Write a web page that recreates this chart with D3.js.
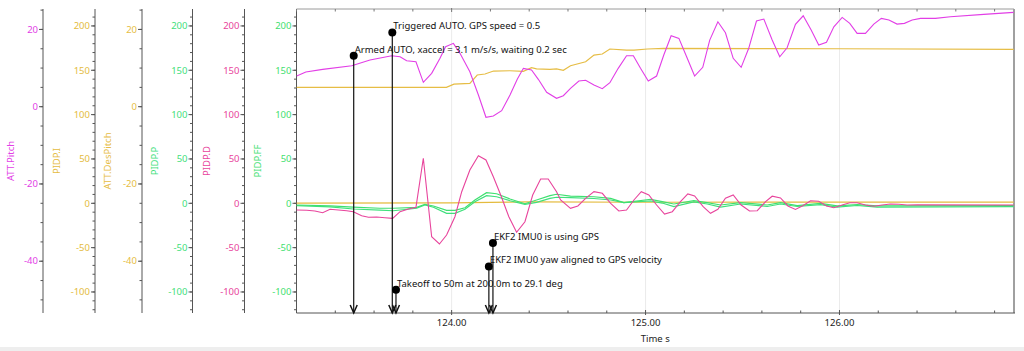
<!DOCTYPE html>
<html>
<head>
<meta charset="utf-8">
<script src="https://cdn.jsdelivr.net/npm/d3@7"></script>
<style>
  body { margin: 0; background: #fff; }
  svg { display: block; font-family: "Noto Sans", sans-serif; }
</style>
</head>
<body>
<div id="graf"></div>
<script>
// vrijeme (s) i vrijednosti serija
const pitchT = [123.201, 123.248, 123.335, 123.485, 123.579, 123.691, 123.734, 123.768, 123.816, 123.854, 123.897, 123.940, 123.969, 124.009, 124.043, 124.094, 124.138, 124.177, 124.215, 124.258, 124.301, 124.339, 124.370, 124.412, 124.447, 124.490, 124.541, 124.576, 124.613, 124.656, 124.691, 124.734, 124.777, 124.816, 124.859, 124.902, 124.937, 124.974, 125.014, 125.057, 125.094, 125.132, 125.172, 125.215, 125.253, 125.295, 125.331, 125.373, 125.412, 125.452, 125.493, 125.532, 125.572, 125.610, 125.653, 125.692, 125.730, 125.773, 125.813, 125.854, 125.893, 125.933, 125.971, 126.014, 126.053, 126.091, 126.134, 126.177, 126.216, 126.255, 126.297, 126.335, 126.375, 126.418, 126.495, 126.572, 126.744, 126.898];
const pitchV = [7.94, 9.0, 9.67, 10.6, 12.08, 13.19, 12.93, 11.9, 11.64, 6.31, 8.64, 12.52, 15.52, 16.4, 13.81, 9.05, 3.03, -2.74, -2.41, -1.03, 3.03, 7.17, 9.93, 9.49, 7.09, 3.72, 2.17, 2.85, 4.76, 6.65, 6.83, 5.61, 4.66, 6.21, 9.93, 13.19, 13.19, 9.93, 6.65, 7.94, 13.37, 18.37, 17.69, 12.52, 7.94, 10.19, 17.25, 21.99, 19.14, 12.52, 10.19, 15.11, 22.17, 22.69, 17.25, 12.93, 15.26, 21.31, 23.54, 19.84, 15.96, 16.66, 20.69, 23.12, 21.57, 18.99, 18.99, 21.39, 22.87, 22.43, 21.39, 21.57, 22.43, 22.87, 22.87, 23.28, 23.9, 24.42];

const desPitchT = [123.201, 123.80, 123.973, 124.012, 124.094, 124.132, 124.172, 124.216, 124.300, 124.370, 124.412, 124.438, 124.507, 124.541, 124.576, 124.613, 124.691, 124.734, 124.777, 124.816, 124.902, 124.940, 125.010, 125.094, 126.0, 126.898];
const desPitchV = [5.02, 5.0, 5.0, 5.85, 6.05, 8.2, 8.46, 9.23, 9.31, 9.16, 10.09, 9.8, 9.67, 9.8, 9.42, 10.6, 11.64, 13.37, 13.63, 14.93, 14.67, 14.67, 14.93, 15.1, 15.0, 14.85];

const pidIT = [123.201, 124.0, 124.4, 125.0, 126.898];
const pidIV = [0.3, 0.5, 1.5, 1.2, 1.3];

const pidDT = [123.201, 123.253, 123.295, 123.335, 123.373, 123.416, 123.459, 123.493, 123.536, 123.571, 123.613, 123.656, 123.696, 123.734, 123.777, 123.816, 123.854, 123.897, 123.937, 123.974, 124.017, 124.052, 124.094, 124.138, 124.177, 124.215, 124.253, 124.295, 124.335, 124.378, 124.418, 124.459, 124.498, 124.541, 124.562, 124.613, 124.651, 124.691, 124.734, 124.777, 124.820, 124.862, 124.902, 124.940, 124.978, 125.017, 125.057, 125.098, 125.138, 125.180, 125.218, 125.253, 125.297, 125.335, 125.373, 125.412, 125.452, 125.493, 125.536, 125.576, 125.619, 125.653, 125.696, 125.734, 125.773, 125.813, 125.851, 125.893, 125.933, 125.971, 126.014, 126.053, 126.091, 126.134, 126.177, 126.220, 126.263, 126.306, 126.349, 126.401, 126.898];
const pidDV = [-7.56, -7.9, -8.69, -10.6, -6.77, -7.56, -8.35, -9.48, -14.0, -15.8, -15.46, -16.25, -16.93, -9.48, -6.43, -4.51, 50.8, -37.7, -45.9, -35.8, -15.1, 13.1, 37.6, 53.7, 48.9, 30.0, 9.37, -15.1, -32.7, -20.8, 9.37, 27.4, 27.4, 13.1, 3.72, -5.64, -3.05, 5.64, 13.1, 11.3, 0, -8.69, -7.56, 3.72, 13.1, 9.37, -1.92, -12.1, -9.48, 1.81, 10.5, 8.24, -3.84, -11.3, -6.77, 5.64, 9.37, -1.92, -8.69, -8.35, 1.81, 8.0, 6.0, -3.0, -7.0, -2.5, 2.93, 2.26, -3.05, -4.97, -1.92, 0.68, 0.68, -1.92, -3.39, -1.92, -0.79, -1.13, -1.92, -1.58, -1.92];

const greenT = [123.201, 123.373, 123.493, 123.630, 123.699, 123.820, 123.862, 123.906, 123.974, 124.017, 124.069, 124.120, 124.180, 124.232, 124.301, 124.378, 124.438, 124.507, 124.541, 124.613, 124.734, 124.820, 124.888, 124.965, 125.026, 125.086, 125.146, 125.249, 125.318, 125.387, 125.490, 125.627, 125.696, 125.782, 125.902, 125.988, 126.091, 126.194, 126.898];
const pidFFV = [-1.9, -3.0, -4.2, -5.6, -5.6, -4.5, -1.1, -3.0, -7.9, -7.9, -5.0, 3.7, 12.0, 10.8, 4.9, -0.5, 3.7, 8.6, 10.2, 8.2, 7.4, 5.6, 0.7, 2.9, 4.5, 1.8, -0.8, 2.9, 0.7, -1.9, 0.7, -1.9, 0.7, -2.7, 0, -3.0, -1.6, -3.0, -2.5];
const pidPV = [-2.7, -4.0, -6.4, -7.6, -8.4, -5.6, -1.9, -4.5, -11.3, -11.3, -6.8, 1.8, 8.6, 7.4, 2.9, -1.1, 1.1, 5.6, 6.8, 6.5, 5.4, 3.7, 0.7, 2.0, 2.6, 0.3, -3.8, 1.5, -0.8, -4.2, -0.8, -3.6, -0.8, -3.6, -1.4, -4.2, -2.5, -4.2, -3.8];

const eventT = [123.495, 123.694, 123.713, 124.192, 124.213];
const eventText = [
  "Armed AUTO, xaccel = 3.1 m/s/s, waiting 0.2 sec",
  "Triggered AUTO. GPS speed = 0.5",
  "Takeoff to 50m at 200.0m to 29.1 deg",
  "EKF2 IMU0 yaw aligned to GPS velocity",
  "EKF2 IMU0 is using GPS"
];

const xDomain = [123.2, 126.9];
const pitchDomain = [-53.4, 25.29];
const pidDomain = [-123.7, 219.1];
const xTicks = [124, 125, 126];

const sirina = 1024, visina = 351;
const plot = { left: 296.5, right: 1014, top: 9, bottom: 313 };

const boje = {
  pitch: "#e23ee6",
  desPitch: "#e6bd45",
  pidI: "#e4bb3e",
  pidP: "#3fe07c",
  pidD: "#e8449c",
  pidFF: "#3fe070"
};

// lijeve osi: [naziv, x linije, x naslova, boja, skala]
const svg = d3.select("#graf").append("svg")
  .attr("width", sirina).attr("height", visina);

svg.append("rect").attr("x", 0).attr("y", 347).attr("width", sirina).attr("height", 4).attr("fill", "#eeeeee");

const x = d3.scaleLinear().domain(xDomain).range([plot.left, plot.right]);
const yPitch = d3.scaleLinear().domain(pitchDomain).range([plot.bottom, plot.top]);
const yPid = d3.scaleLinear().domain(pidDomain).range([plot.bottom, plot.top]);

const osi = [
  { naziv: "ATT.Pitch", x: 43, lx: 11, boja: boje.pitch, s: yPitch, major: 20, minor: 5 },
  { naziv: "PIDP.I", x: 95, lx: 57, boja: boje.pidI, s: yPid, major: 50, minor: 10 },
  { naziv: "ATT.DesPitch", x: 142, lx: 108, boja: boje.desPitch, s: yPitch, major: 20, minor: 5 },
  { naziv: "PIDP.P", x: 192.5, lx: 155, boja: boje.pidP, s: yPid, major: 50, minor: 10 },
  { naziv: "PIDP.D", x: 244.5, lx: 207, boja: boje.pidD, s: yPid, major: 50, minor: 10 },
  { naziv: "PIDP.FF", x: 296.5, lx: 258, boja: boje.pidFF, s: yPid, major: 50, minor: 10 }
];

// mreza
svg.append("g").selectAll("line").data(xTicks).enter().append("line")
  .attr("x1", d => x(d)).attr("x2", d => x(d))
  .attr("y1", plot.top).attr("y2", plot.bottom)
  .attr("stroke", "#ebebeb");

osi.forEach(o => {
  const g = svg.append("g").attr("transform", `translate(${o.x},0)`);
  const [lo, hi] = o.s.domain();
  const majors = d3.range(Math.ceil(lo / o.major) * o.major, hi, o.major);
  const minors = d3.range(Math.ceil(lo / o.minor) * o.minor, hi, o.minor);
  g.append("line").attr("y1", plot.top).attr("y2", plot.bottom).attr("stroke", "#555");
  g.selectAll(".mn").data(minors).enter().append("line")
    .attr("x1", -2.5).attr("x2", 0)
    .attr("y1", d => o.s(d)).attr("y2", d => o.s(d))
    .attr("stroke", "#555");
  g.selectAll(".mj").data(majors).enter().append("line")
    .attr("x1", -4).attr("x2", 0)
    .attr("y1", d => o.s(d)).attr("y2", d => o.s(d))
    .attr("stroke", "#555");
  g.selectAll("text").data(majors).enter().append("text")
    .attr("x", -5).attr("y", d => o.s(d)).attr("dy", "0.34em")
    .attr("text-anchor", "end")
    .style("font-size", "9.5px").attr("fill", o.boja)
    .text(d => d);
  svg.append("text")
    .attr("transform", `translate(${o.lx},${(plot.top + plot.bottom) / 2}) rotate(-90)`)
    .attr("dy", "0.35em").attr("text-anchor", "middle")
    .style("font-size", "9.5px").attr("fill", o.boja)
    .text(o.naziv);
});

// x os
const xMinor = d3.range(123.2, 126.9001, 0.2).filter(d => !xTicks.some(t => Math.abs(t - d) < 1e-6));
svg.append("line").attr("x1", plot.left).attr("x2", plot.right).attr("y1", plot.top).attr("y2", plot.top).attr("stroke", "#9a9a9a");
svg.append("line").attr("x1", plot.right).attr("x2", plot.right).attr("y1", plot.top).attr("y2", plot.bottom).attr("stroke", "#a0a0a0").attr("stroke-width", 2);
svg.append("line").attr("x1", plot.left).attr("x2", plot.right + 1).attr("y1", plot.bottom).attr("y2", plot.bottom).attr("stroke", "#555");

const tg = svg.append("g");
tg.selectAll(".bmn").data(xMinor).enter().append("line")
  .attr("x1", d => x(d)).attr("x2", d => x(d)).attr("y1", plot.bottom - 2.5).attr("y2", plot.bottom).attr("stroke", "#555");
tg.selectAll(".bmj").data(xTicks).enter().append("line")
  .attr("x1", d => x(d)).attr("x2", d => x(d)).attr("y1", plot.bottom - 3).attr("y2", plot.bottom + 2).attr("stroke", "#555");
tg.selectAll(".tmn").data(xMinor).enter().append("line")
  .attr("x1", d => x(d)).attr("x2", d => x(d)).attr("y1", plot.top).attr("y2", plot.top + 2.5).attr("stroke", "#777");
tg.selectAll(".tmj").data(xTicks).enter().append("line")
  .attr("x1", d => x(d)).attr("x2", d => x(d)).attr("y1", plot.top - 1).attr("y2", plot.top + 3).attr("stroke", "#777");
tg.selectAll("text").data(xTicks).enter().append("text")
  .attr("x", d => x(d)).attr("y", 326)
  .attr("text-anchor", "middle").style("font-size", "9.5px").attr("fill", "#222")
  .text(d => d3.format(".2f")(d));
svg.append("text").attr("x", (plot.left + plot.right) / 2).attr("y", 341.5)
  .attr("text-anchor", "middle").style("font-size", "9.5px").attr("fill", "#222")
  .text("Time s");

// linije
const crtaj = (T, V, s, boja, w) => {
  const line = d3.line().x((d, i) => x(T[i])).y(d => s(d));
  svg.append("path").datum(V)
    .attr("d", line).attr("fill", "none")
    .attr("stroke", boja).attr("stroke-width", w);
};
crtaj(desPitchT, desPitchV, yPitch, boje.desPitch, 1.2);
crtaj(pitchT, pitchV, yPitch, boje.pitch, 1.1);
crtaj(pidIT, pidIV, yPid, boje.pidI, 1.2);
crtaj(greenT, pidPV, yPid, boje.pidP, 1.2);
crtaj(greenT, pidFFV, yPid, boje.pidFF, 1.2);
crtaj(pidDT, pidDV, yPid, boje.pidD, 1.1);

// dogadaji
const red = [2, 1, 12, 11, 10];
const korak = 23.4;
const ev = svg.append("g");
eventT.forEach((t, i) => {
  const ex = x(t);
  const ey = plot.top + red[i] * korak;
  ev.append("line").attr("x1", ex).attr("x2", ex).attr("y1", ey).attr("y2", plot.bottom)
    .attr("stroke", "#111").attr("stroke-width", 1.2);
  ev.append("path")
    .attr("d", `M${ex - 3.5},${plot.bottom - 8} L${ex},${plot.bottom} L${ex + 3.5},${plot.bottom - 8}`)
    .attr("fill", "none").attr("stroke", "#111").attr("stroke-width", 1.5);
  ev.append("circle").attr("cx", ex).attr("cy", ey).attr("r", 4).attr("fill", "#000");
  ev.append("text").attr("x", ex + 1).attr("y", ey - 3)
    .style("font-size", "9.5px").attr("fill", "#111")
    .text(eventText[i]);
});
</script>
</body>
</html>
